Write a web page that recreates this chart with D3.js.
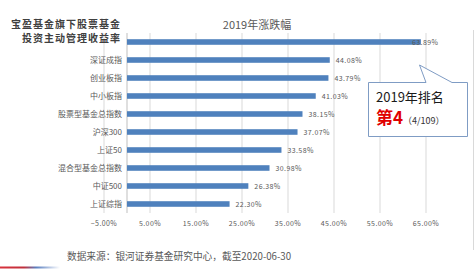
<!DOCTYPE html>
<html>
<head>
<meta charset="utf-8">
<script src="https://cdn.jsdelivr.net/npm/d3@7"></script>
<style>
  body { margin: 0; background: #fff; }
  svg { display: block; font-family: "Noto Sans CJK SC", "Noto Sans", sans-serif; }
</style>
</head>
<body>
<div id="chart"></div>
<script>
/* DATA */
const categories = [
  "宝盈基金旗下股票基金\n投资主动管理收益率",
  "深证成指", "创业板指", "中小板指", "股票型基金总指数",
  "沪深300", "上证50", "混合型基金总指数", "中证500", "上证综指"
];
const values = [63.89, 44.08, 43.79, 41.03, 38.15, 37.07, 33.58, 30.98, 26.38, 22.30];
const tickValues = [-5, 5, 15, 25, 35, 45, 55, 65];
const chartTitle = "2019年涨跌幅";
const rankTitle = "2019年排名";
const rankMain = "第4";
const rankSub = "（4/109）";
const sourceNote = "数据来源：银河证券基金研究中心，截至2020-06-30";

/* CONSTANTS */
const width = 475, height = 269;
const plot = { top: 33, bottom: 213 };

const svg = d3.select("#chart").append("svg")
  .attr("width", width)
  .attr("height", height);

// scales
const xScale = d3.scaleLinear().domain([-5, 65]).range([104, 426]);
const yScale = d3.scaleBand()
  .domain(categories)
  .range([plot.top, plot.bottom])
  .paddingInner(0.69)
  .paddingOuter(0.345);

// gridlines
svg.append("g")
  .selectAll("line")
  .data(tickValues)
  .join("line")
  .attr("x1", d => xScale(d)).attr("x2", d => xScale(d))
  .attr("y1", plot.top).attr("y2", plot.bottom)
  .attr("stroke", "#d9d9d9")
  .attr("stroke-width", 1);

// right border of the chart area
svg.append("line")
  .attr("x1", 473.5).attr("x2", 473.5)
  .attr("y1", 30).attr("y2", 250)
  .attr("stroke", "#d9d9d9");

// zero axis
svg.append("line")
  .attr("x1", xScale(0)).attr("x2", xScale(0))
  .attr("y1", plot.top).attr("y2", plot.bottom)
  .attr("stroke", "#bfbfbf");

// x tick labels
svg.append("g")
  .selectAll("text")
  .data(tickValues)
  .join("text")
  .attr("x", d => xScale(d))
  .attr("y", 226)
  .attr("text-anchor", "middle")
  .attr("font-size", 7)
  .attr("letter-spacing", 0.4)
  .attr("fill", "#595959")
  .text(d => (d < 0 ? "−" : "") + d3.format(".2f")(Math.abs(d)) + "%");

// bars
svg.append("g")
  .selectAll("rect")
  .data(values)
  .join("rect")
  .attr("x", xScale(0))
  .attr("y", (d, i) => yScale(categories[i]))
  .attr("width", d => xScale(d) - xScale(0))
  .attr("height", yScale.bandwidth())
  .attr("fill", "#4f81bd");

// value labels
svg.append("g")
  .selectAll("text")
  .data(values)
  .join("text")
  .attr("x", d => Math.min(xScale(d) + 6, xScale(65) - 14))
  .attr("y", (d, i) => yScale(categories[i]) + yScale.bandwidth() / 2 + 2.5)
  .attr("font-size", 7)
  .attr("letter-spacing", 0.4)
  .attr("fill", "#595959")
  .text(d => d3.format(".2f")(d) + "%");

// category labels
categories.forEach((c, i) => {
  const cy = yScale(c) + yScale.bandwidth() / 2;
  if (c.includes("\n")) {
    // first label is the bold two-line heading
    c.split("\n").forEach((line, j) => {
      svg.append("text")
        .attr("x", 121)
        .attr("y", 27.5 + j * 14.5)
        .attr("text-anchor", "end")
        .attr("font-size", 10)
        .attr("letter-spacing", 1)
        .attr("font-weight", "bold")
        .attr("fill", "#404040")
        .text(line);
    });
  } else {
    svg.append("text")
      .attr("x", 122)
      .attr("y", cy + 3)
      .attr("text-anchor", "end")
      .attr("font-size", 8)
      .attr("fill", "#595959")
      .text(c);
  }
});

// chart title
svg.append("text")
  .attr("x", 257)
  .attr("y", 29)
  .attr("text-anchor", "middle")
  .attr("font-size", 11)
  .attr("fill", "#595959")
  .text(chartTitle);

// callout
svg.append("path")
  .attr("d", "M368.5,82.5 L426,82.5 L419.5,65 L452,82.5 L467.5,82.5 L467.5,136.5 L368.5,136.5 Z")
  .attr("fill", "#fff")
  .attr("stroke", "#7f9cc4")
  .attr("stroke-width", 1);

svg.append("text")
  .attr("x", 376)
  .attr("y", 102)
  .attr("font-size", 13)
  .attr("fill", "#1a1a1a")
  .text(rankTitle);

const rank = svg.append("text")
  .attr("x", 376)
  .attr("y", 124);
rank.append("tspan")
  .attr("font-size", 17)
  .attr("font-weight", "bold")
  .attr("fill", "#e00000")
  .text(rankMain);
rank.append("tspan")
  .attr("font-size", 9)
  .attr("fill", "#333")
  .text(rankSub);

// source note
svg.append("text")
  .attr("x", 67)
  .attr("y", 260)
  .attr("font-size", 9.7)
  .attr("fill", "#595959")
  .text(sourceNote);

// bottom decorative stripe
const grad = svg.append("defs").append("linearGradient")
  .attr("id", "stripe")
  .attr("x1", "0%").attr("x2", "100%");
grad.append("stop").attr("offset", "0%").attr("stop-color", "#d8323c");
grad.append("stop").attr("offset", "40%").attr("stop-color", "#c0303c");
grad.append("stop").attr("offset", "60%").attr("stop-color", "#5a7fc0");
grad.append("stop").attr("offset", "100%").attr("stop-color", "#ffffff");
svg.append("rect")
  .attr("x", 0).attr("y", 266.5)
  .attr("width", 60).attr("height", 2)
  .attr("fill", "url(#stripe)");
</script>
</body>
</html>
